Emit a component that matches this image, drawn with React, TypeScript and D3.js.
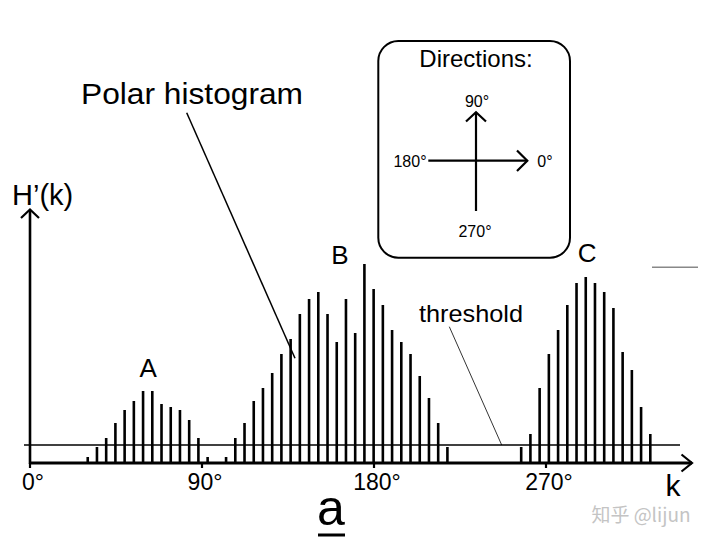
import React from 'react';
import * as d3 from 'd3';

// H'(k) per sector, starting at the first non-empty sector
const histogram = [
  0.6, 1.6, 2.5, 4.0, 5.3, 6.2, 7.2, 7.2, 5.9, 5.6, 5.3, 4.3, 2.5, 0.6, 0, 0.6,
  2.5, 4.0, 6.2, 7.5, 9.0, 10.9, 12.4, 14.9, 16.4, 17.1, 14.9, 12.1, 16.4, 13.0,
  19.9, 17.4, 15.8, 13.3, 12.1, 10.9, 8.7, 6.5, 4.0, 1.6, 0, 0, 0, 0, 0, 0, 0,
  1.6, 2.9, 7.5, 10.9, 13.3, 15.8, 18.0, 18.6, 18.0, 17.1, 15.5, 11.1, 9.3, 5.6,
  2.9,
];
const firstSector = 6.26;
const sectorCount = 74.6; // sectors in 360 degrees
const threshold = 1.8;
const angleTicks = [0, 90, 180, 270];
const peakLabels = ['A', 'B', 'C'];
const peakSectors = [12.8, 33.6, 60.4];
const peakValues = [8.6, 19.9, 20.1];
const directions = ['90°', '180°', '0°', '270°'];

const FONT = '"Liberation Sans", Arial, Helvetica, sans-serif';

export default function App() {
  const width = 718;
  const height = 545;
  const x0 = 30;
  const baseY = 463;

  const x = d3.scaleLinear().domain([0, sectorCount]).range([x0, 718]);
  const y = d3.scaleLinear().domain([0, 25]).range([baseY, 213]);
  const degX = (deg: number) => x((deg / 360) * sectorCount);

  // direction compass
  const cx = 476;
  const cy = 160.7;

  return (
    <svg
      width={width}
      height={height}
      style={{ position: 'absolute', left: 0, top: 0, background: '#fff' }}
      fontFamily={FONT}
    >
      <rect x={0} y={0} width={width} height={height} fill="#fff" />

      {/* bars */}
      <g>
        {histogram.map((v, i) =>
          v > 0 ? (
            <rect
              key={i}
              x={x(firstSector + i) - 1.3}
              y={y(v)}
              width={2.6}
              height={baseY - y(v)}
              fill="#000"
            />
          ) : null,
        )}
      </g>

      {/* threshold */}
      <line
        x1={24}
        x2={680}
        y1={y(threshold)}
        y2={y(threshold)}
        stroke="#000"
        strokeWidth={1.4}
      />

      {/* x axis */}
      <line x1={x0} x2={692} y1={baseY} y2={baseY} stroke="#000" strokeWidth={3} />
      <polyline
        points={`681.5,454.5 692,${baseY} 681.5,471.5`}
        fill="none"
        stroke="#000"
        strokeWidth={2.2}
      />
      {angleTicks.map((t) => (
        <g key={t}>
          <line
            x1={degX(t)}
            x2={degX(t)}
            y1={baseY}
            y2={baseY + 5}
            stroke="#000"
            strokeWidth={2.2}
          />
          <text
            x={degX(t) + 3}
            y={490}
            fontSize={23}
            textAnchor="middle"
            fill="#000"
          >
            {`${t}°`}
          </text>
        </g>
      ))}
      <text x={673} y={496} fontSize={30} textAnchor="middle" fill="#000">
        k
      </text>

      {/* y axis */}
      <line x1={x0} x2={x0} y1={baseY + 1} y2={210} stroke="#000" strokeWidth={2.6} />
      <polyline
        points={`21,218 ${x0},209.5 39,218`}
        fill="none"
        stroke="#000"
        strokeWidth={2.2}
      />
      <text x={12} y={205} fontSize={29} fill="#000">
        H’(k)
      </text>

      {/* peak labels */}
      {peakLabels.map((l, i) => (
        <text
          key={l}
          x={x(peakSectors[i])}
          y={y(peakValues[i])}
          fontSize={26}
          textAnchor="middle"
          fill="#000"
        >
          {l}
        </text>
      ))}

      {/* annotations */}
      <text
        x={81}
        y={103.5}
        fontSize={30}
        textLength={222}
        lengthAdjust="spacingAndGlyphs"
        fill="#000"
      >
        Polar histogram
      </text>
      <line x1={186.7} y1={112.7} x2={295} y2={358.3} stroke="#000" strokeWidth={1.5} />

      <text
        x={419}
        y={321.7}
        fontSize={24}
        textLength={104}
        lengthAdjust="spacingAndGlyphs"
        fill="#000"
      >
        threshold
      </text>
      <line x1={449.3} y1={326.7} x2={501.7} y2={445} stroke="#000" strokeWidth={0.8} />

      <line x1={652} y1={267.3} x2={698} y2={267.3} stroke="#888" strokeWidth={1.5} />

      {/* directions box */}
      <rect
        x={378.3}
        y={41}
        width={191.7}
        height={216.7}
        rx={20}
        fill="none"
        stroke="#000"
        strokeWidth={2}
      />
      <text x={476} y={66.7} fontSize={24} textAnchor="middle" fill="#000">
        Directions:
      </text>
      <line x1={cx} x2={cx} y1={112.3} y2={211} stroke="#000" strokeWidth={2.2} />
      <polyline
        points={`466,121.5 ${cx},112.3 486,121.5`}
        fill="none"
        stroke="#000"
        strokeWidth={2.2}
      />
      <line x1={428.3} x2={527.3} y1={cy} y2={cy} stroke="#000" strokeWidth={2.2} />
      <polyline
        points={`517,150.5 527.3,${cy} 517,171`}
        fill="none"
        stroke="#000"
        strokeWidth={2.2}
      />
      <text x={477} y={106.7} fontSize={16} textAnchor="middle" fill="#000">
        {directions[0]}
      </text>
      <text x={410} y={166.7} fontSize={16} textAnchor="middle" fill="#000">
        {directions[1]}
      </text>
      <text x={545} y={166.7} fontSize={16} textAnchor="middle" fill="#000">
        {directions[2]}
      </text>
      <text x={475} y={236.7} fontSize={16} textAnchor="middle" fill="#000">
        {directions[3]}
      </text>

      {/* figure label */}
      <text x={331} y={525} fontSize={50} textAnchor="middle" fill="#000">
        a
      </text>
      <line x1={318} x2={345} y1={535} y2={535} stroke="#000" strokeWidth={3} />

      {/* watermark */}
      <text
        x={641}
        y={522}
        fontSize={19}
        textAnchor="middle"
        fill="#c4c4c4"
        fontFamily='"Noto Sans CJK SC", "Noto Sans", sans-serif'
      >
        知乎 @lijun
      </text>
    </svg>
  );
}
